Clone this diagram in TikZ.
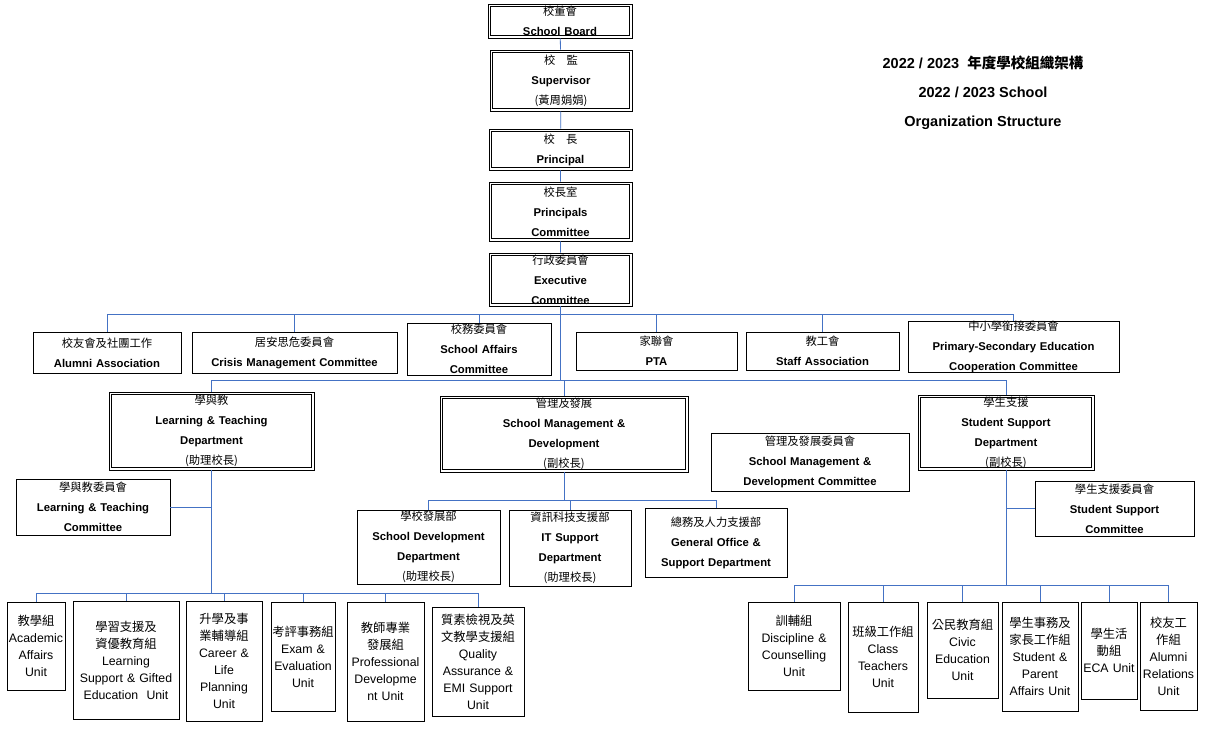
\documentclass[tikz,border=0pt]{standalone}
\usepackage{fontspec}
\setmainfont{Liberation Sans}
\newfontfamily\cj{Noto Sans CJK TC}
\XeTeXlinebreaklocale "zh"
\XeTeXlinebreakskip=0pt
\definecolor{lnc}{RGB}{68,114,196}
\begin{document}
\begin{tikzpicture}[x=1pt,y=-1pt,
  ln/.style={draw=lnc,line width=0.8pt},
  bx/.style={draw,line width=0.9pt,inner sep=0pt,align=center,anchor=center},
  dbl/.style={bx,line width=0.8pt},
  tf/.style={font=\fontsize{11.3}{20}\selectfont\bfseries},
  uf/.style={font=\fontsize{12.3}{17}\selectfont}]
\useasboundingbox (0,0) rectangle (1207,730);
\fill[white] (0,0) rectangle (1207,730);
\newcommand\bx[7]{\node[#7,minimum width=#4-#2,minimum height=#5-#3,text width=#4-#2-2] (#1) at ({(#2+#4)/2},{(#3+#5)/2}) {#6};}
\newcommand\dbx[6]{\bx{#1}{#2}{#3}{#4}{#5}{#6}{dbl,tf}\draw[line width=0.8pt] ([shift={(2.6,2.6)}]#1.north west) rectangle ([shift={(-2.6,-2.6)}]#1.south east);}
% title
\node[font=\fontsize{14.5}{29}\selectfont\bfseries,align=center] (title) at (983,93) {2022 / 2023\ \ {\cj 年度學校組織架構}\\2022 / 2023 School\\Organization Structure};
% top chain
\dbx{board}{488}{4}{632}{38}{{\cj\mdseries 校董會}\\School Board}
\dbx{sup}{490}{50}{632}{111}{{\cj\mdseries 校\quad 監}\\Supervisor\\{\cj\mdseries (黃周娟娟)}}
\dbx{prin}{489}{129}{632}{170}{{\cj\mdseries 校\quad 長}\\Principal}
\dbx{pc}{489}{182}{632}{241}{{\cj\mdseries 校長室}\\Principals\\Committee}
\dbx{exec}{489}{253}{632}{306}{{\cj\mdseries 行政委員會}\\Executive\\Committee}
% committees
\bx{alum}{33}{332}{181}{373}{{\cj\mdseries 校友會及社團工作}\\Alumni Association}{bx,tf}
\bx{crisis}{192}{332}{397}{373}{{\cj\mdseries 居安思危委員會}\\Crisis Management Committee}{bx,tf}
\bx{sa}{407}{323}{551}{375}{{\cj\mdseries 校務委員會}\\School Affairs\\Committee}{bx,tf}
\bx{pta}{576}{332}{737}{370}{{\cj\mdseries 家聯會}\\PTA}{bx,tf}
\bx{staff}{746}{332}{899}{370}{{\cj\mdseries 教工會}\\Staff Association}{bx,tf}
\bx{ps}{908}{322}{1119}{372}{{\cj\mdseries 中小學銜接委員會}\\Primary-Secondary Education\\Cooperation Committee}{bx,tf}
% departments
\dbx{lt}{109}{392}{314}{470}{{\cj\mdseries 學與教}\\Learning \& Teaching\\Department\\{\cj\mdseries (助理校長)}}
\dbx{smd}{440}{396}{688}{472}{{\cj\mdseries 管理及發展}\\School Management \&\\Development\\{\cj\mdseries (副校長)}}
\bx{smdc}{711}{433}{909}{491}{{\cj\mdseries 管理及發展委員會}\\School Management \&\\Development Committee}{bx,tf}
\dbx{ss}{918}{395}{1094}{470}{{\cj\mdseries 學生支援}\\Student Support\\Department\\{\cj\mdseries (副校長)}}
\bx{ltc}{16}{479}{170}{535}{{\cj\mdseries 學與教委員會}\\Learning \& Teaching\\Committee}{bx,tf}
\bx{ssc}{1035}{481}{1194}{536}{{\cj\mdseries 學生支援委員會}\\Student Support\\Committee}{bx,tf}
\bx{sd}{357}{510}{500}{584}{{\cj\mdseries 學校發展部}\\School Development\\Department\\{\cj\mdseries (助理校長)}}{bx,tf}
\bx{it}{509}{510}{631}{586}{{\cj\mdseries 資訊科技支援部}\\IT Support\\Department\\{\cj\mdseries (助理校長)}}{bx,tf}
\bx{go}{645}{508}{787}{577}{{\cj\mdseries 總務及人力支援部}\\General Office \&\\Support Department}{bx,tf}
% LT units
\bx{u1}{7}{602}{65}{690}{{\cj 教學組}\\Academic\\Affairs\\Unit}{bx,uf}
\bx{u2}{73}{601}{179}{719}{{\cj 學習支援及資優教育組}\\Learning\\Support \& Gifted\\Education\ \ Unit}{bx,uf}
\bx{u3}{186}{601}{262}{721}{{\cj 升學及事業輔導組}\\Career \&\\Life\\Planning\\Unit}{bx,uf}
\bx{u4}{271}{602}{335}{711}{{\cj 考評事務組}\\Exam \&\\Evaluation\\Unit}{bx,uf}
\bx{u5}{347}{602}{424}{721}{{\cj 教師專業發展組}\\Professional\\Developme\\nt Unit}{bx,uf}
\bx{u6}{432}{607}{524}{716}{{\cj 質素檢視及英文教學支援組}\\Quality\\Assurance \&\\EMI Support\\Unit}{bx,uf}
% SS units
\bx{s1}{748}{602}{840}{690}{{\cj 訓輔組}\\Discipline \&\\Counselling\\Unit}{bx,uf}
\bx{s2}{848}{602}{918}{712}{{\cj 班級工作組}\\Class\\Teachers\\Unit}{bx,uf}
\bx{s3}{927}{602}{998}{698}{{\cj 公民教育組}\\Civic\\Education\\Unit}{bx,uf}
\bx{s4}{1002}{602}{1078}{711}{{\cj 學生事務及家長工作組}\\Student \&\\Parent\\Affairs Unit}{bx,uf}
\bx{s5}{1081}{602}{1137}{699}{{\cj 學生活動組}\\ECA Unit}{bx,uf}
\bx{s6}{1140}{602}{1197}{710}{{\cj 校友工作組}\\Alumni\\Relations\\Unit}{bx,uf}
% connectors
\coordinate (h1) at (561,314);
\coordinate (h2) at (561,380);
\coordinate (h3) at (210,593);
\coordinate (h4) at (561,500);
\coordinate (h5) at (1000,585);
\draw[ln] (board) -- (sup) (sup) -- (prin) (prin) -- (pc) (pc) -- (exec);
\draw[ln] (exec.south) -- (exec.south |- h2);
\draw[ln] (alum.north |- h1) -- (ps.north |- h1);
\foreach \n in {alum,crisis,sa,pta,staff,ps} \draw[ln] (\n.north |- h1) -- (\n.north);
\draw[ln] (lt.south |- h2) -- (ss.south |- h2);
\foreach \n in {lt,smd,ss} \draw[ln] (\n.north |- h2) -- (\n.north);
\draw[ln] (lt.south) -- (lt.south |- h3);
\draw[ln] (ltc.east) -- (ltc.east -| lt.south);
\draw[ln] (u1.north |- h3) -- (u6.north |- h3);
\foreach \n in {u1,u2,u3,u4,u5,u6} \draw[ln] (\n.north |- h3) -- (\n.north);
\draw[ln] (smd.south) -- (smd.south |- h4);
\draw[ln] (sd.north |- h4) -- (go.north |- h4);
\foreach \n in {sd,it,go} \draw[ln] (\n.north |- h4) -- (\n.north);
\draw[ln] (ss.south) -- (ss.south |- h5);
\draw[ln] (ssc.west) -- (ssc.west -| ss.south);
\draw[ln] (s1.north |- h5) -- (s6.north |- h5);
\foreach \n in {s1,s2,s3,s4,s5,s6} \draw[ln] (\n.north |- h5) -- (\n.north);
\end{tikzpicture}
\end{document}
